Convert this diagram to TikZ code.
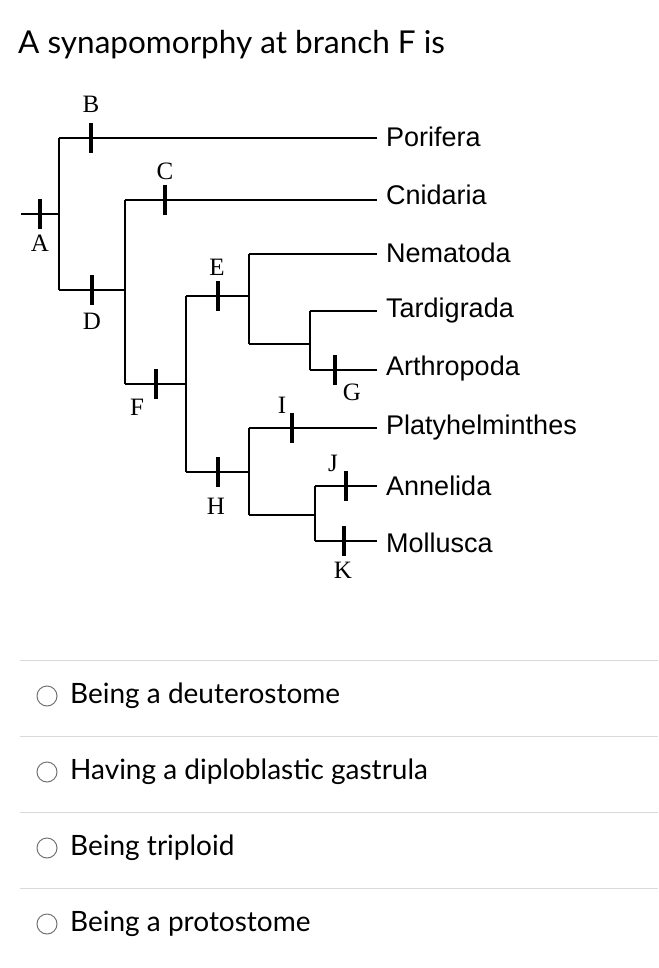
\documentclass[tikz,border=0pt]{standalone}
\usepackage{fontspec}
\setmainfont{Lato}
\newfontfamily\myarial{Liberation Sans}
\newfontfamily\myserif{Liberation Serif}
\begin{document}
\begin{tikzpicture}[x=1pt,y=-1pt,
  br/.style={line width=1.3pt},
  tk/.style={line width=4pt},
  taxon/.style={anchor=west,font=\myarial\fontsize{27}{30}\selectfont,inner sep=0pt},
  lab/.style={font=\myserif\fontsize{25}{28}\selectfont,inner sep=0pt},
  opt/.style={anchor=west,font=\fontsize{28}{32}\selectfont,inner sep=0pt},
  sep/.style={draw=black!15,line width=1pt},
  rad/.style={draw=black!55,line width=1pt}]
\useasboundingbox (0,0) rectangle (658,968);
\node[anchor=west,inner sep=0pt,font=\fontsize{31.5}{34}\selectfont] (title) at (18,45) {A synapomorphy at branch F is};
% branches
\draw[br] (21,214) -- (59,214) (59,138) -- (59,290)
  (59,138) -- (377,138) (59,290) -- (125,290)
  (125,200) -- (125,384) (125,200) -- (377,200) (125,384) -- (186,384)
  (186,296) -- (186,472) (186,296) -- (249,296)
  (249,254) -- (249,344) (249,254) -- (377,254) (249,344) -- (310,344)
  (310,311) -- (310,370) (310,311) -- (377,311) (310,370) -- (377,370)
  (186,472) -- (249,472) (249,428) -- (249,515) (249,428) -- (377,428)
  (249,515) -- (315,515) (315,486) -- (315,541) (315,486) -- (377,486) (315,541) -- (377,541);
% ticks
\foreach \x/\y in {40/214,91/138,92/290,165/200,156/384,218/296,218/472,335/370,292/428,346/486,344/541}
  \draw[tk] (\x,\y-15) -- (\x,\y+15);
% labels
\node[lab] (lA) at (40,243) {A};
\node[lab] (lB) at (91,104) {B};
\node[lab] (lC) at (165,171) {C};
\node[lab] (lD) at (92,321) {D};
\node[lab] (lE) at (217,267) {E};
\node[lab] (lF) at (137,407) {F};
\node[lab] (lG) at (352,392) {G};
\node[lab] (lH) at (216,506) {H};
\node[lab] (lI) at (282,405) {I};
\node[lab] (lJ) at (333,463) {J};
\node[lab] (lK) at (343,570) {K};
% taxa
\node[taxon] (t1) at (386,137) {Porifera};
\node[taxon] (t2) at (386,195) {Cnidaria};
\node[taxon] (t3) at (386,253) {Nematoda};
\node[taxon] (t4) at (386,311) {Tardigrada};
\node[taxon] (t5) at (386,369) {Arthropoda};
\node[taxon] (t6) at (386,428) {Platyhelminthes};
\node[taxon] (t7) at (386,486) {Annelida};
\node[taxon] (t8) at (386,543) {Mollusca};
% options
\foreach \y in {660,736,812,888} \draw[sep] (20,\y) -- (658,\y);
\foreach \y/\t [count=\i] in {696/Being a deuterostome,772/Having a diploblastic gastrula,848/Being triploid,924/Being a protostome}{
  \draw[rad] (47,\y) circle (10);
  \node[opt] (o\i) at (70,\y) {\t};
}
\end{tikzpicture}
\end{document}
